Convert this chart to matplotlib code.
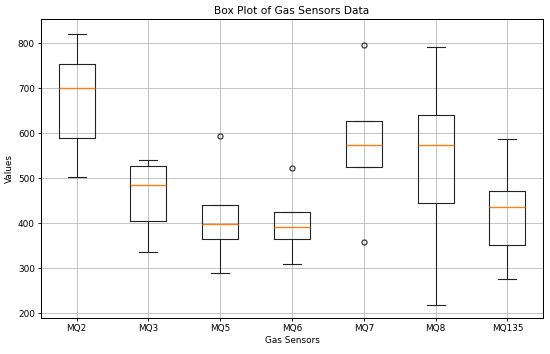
import matplotlib
matplotlib.use("Agg")
import matplotlib.pyplot as plt

sensors = ["MQ2", "MQ3", "MQ5", "MQ6", "MQ7", "MQ8", "MQ135"]
whisker_low = [502, 336, 290, 310, 524, 218, 275]
q1 = [590, 404, 364, 364, 524, 445, 352]
median = [700, 484, 398, 391, 575, 575, 435]
q3 = [755, 527, 441, 425, 628, 641, 471]
whisker_high = [822, 541, 441, 425, 628, 792, 588]
fliers = [[], [], [595], [523], [796, 359], [], []]

stats = []
for i, name in enumerate(sensors):
    stats.append(dict(label=name, whislo=whisker_low[i], q1=q1[i], med=median[i],
                      q3=q3[i], whishi=whisker_high[i], fliers=fliers[i]))

DPI = 61
fig = plt.figure(figsize=(550 / DPI, 354 / DPI), dpi=DPI)
ax = fig.add_axes([40.7 / 550, 1 - 318 / 354, (543.3 - 40.7) / 550, (318 - 18.7) / 354])
lw = 1.3
ax.bxp(stats, showfliers=True,
       boxprops=dict(linewidth=lw, color="#222222"),
       whiskerprops=dict(linewidth=lw, color="#222222"),
       capprops=dict(linewidth=lw, color="#222222"),
       medianprops=dict(linewidth=1.6, color="#ff7f0e"),
       flierprops=dict(markeredgewidth=lw, markersize=6, markeredgecolor="#222222"))
ax.set_ylim(189, 855)
ax.set_title("Box Plot of Gas Sensors Data", fontsize=12.5)
ax.set_xlabel("Gas Sensors", fontsize=10.5)
ax.set_ylabel("Values", fontsize=10.5)
ax.tick_params(labelsize=10.5, width=1.0)
for s in ax.spines.values():
    s.set_linewidth(1.2)
ax.grid(True, linewidth=1.1, color="#c0c0c0")
fig.savefig("out.png", dpi=DPI)
